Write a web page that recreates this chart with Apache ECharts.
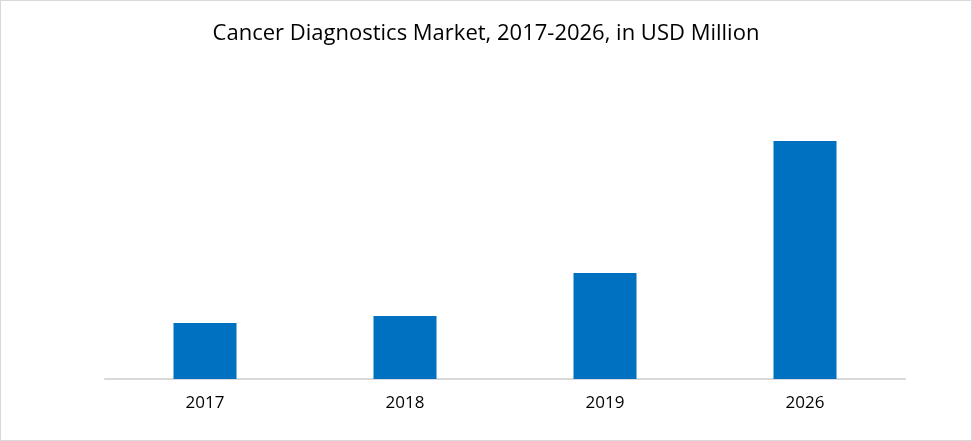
<!DOCTYPE html>
<html>
<head>
<meta charset="utf-8">
<script src="https://cdn.jsdelivr.net/npm/echarts@6/dist/echarts.min.js"></script>
<style>
  html, body { margin: 0; padding: 0; background: #fff; }
  #main { width: 970px; height: 439px; border: 1px solid #d9d9d9; }
</style>
</head>
<body>
<div id="main"></div>
<script>
// years on the x axis
var years = ['2017', '2018', '2019', '2026'];
// market size (no value axis in the picture)
var marketSize = [56, 63, 106, 238];

var chartDom = document.getElementById('main');
var myChart = echarts.init(chartDom);
var option;

option = {
  animation: false,
  title: {
    text: 'Cancer Diagnostics Market, 2017-2026, in USD Million',
    left: 'center',
    top: 17,
    textStyle: {
      fontFamily: 'Open Sans',
      fontWeight: 'normal',
      fontSize: 22,
      color: '#000'
    }
  },
  grid: {
    left: 104,
    right: 66,
    top: 128,
    bottom: 61
  },
  xAxis: {
    type: 'category',
    data: years,
    axisTick: { show: false },
    axisLine: { lineStyle: { color: '#d9d9d9', width: 2 } },
    axisLabel: {
      margin: 16,
      fontFamily: 'Open Sans',
      fontSize: 17,
      color: '#000'
    }
  },
  yAxis: {
    type: 'value',
    min: 0,
    max: 250,
    show: false,
    splitLine: { show: false }
  },
  series: [
    {
      type: 'bar',
      data: marketSize,
      barWidth: 63,
      itemStyle: { color: '#0070c0' }
    }
  ]
};

option && myChart.setOption(option);
</script>
</body>
</html>
